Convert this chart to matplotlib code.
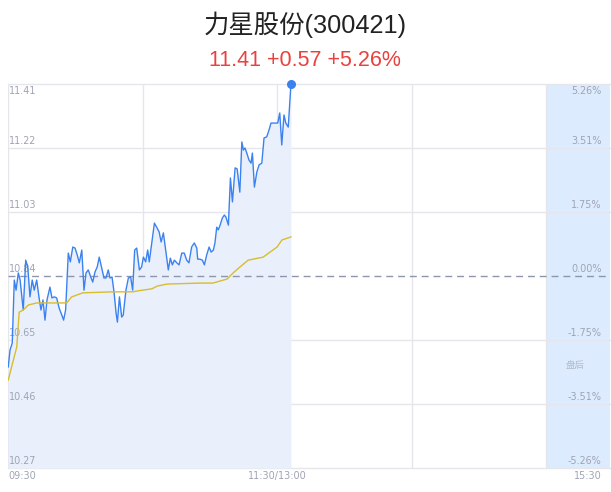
import matplotlib
matplotlib.use("Agg")
import matplotlib.pyplot as plt
import numpy as np

plt.rcParams['font.family'] = ['Noto Sans CJK SC', 'DejaVu Sans']

title = "力星股份(300421)"
subtitle = "11.41 +0.57 +5.26%"
prev_close = 10.84
y_ticks = [11.41, 11.22, 11.03, 10.84, 10.65, 10.46, 10.27]
x_tick_pos = [0, 120, 268.5]
x_tick_labels = ["09:30", "11:30/13:00", "15:30"]
post_label = "盘后"

# minutes since 09:30 (lunch break removed)
price_t = [0.1, 0.9, 1.9, 2.8, 3.6, 4.6, 5.4, 6.8, 7.9, 8.8, 9.8, 10.8, 11.7, 12.8, 13.8,
           14.7, 15.6, 16.5, 17.4, 18.7, 19.6, 20.7, 21.7, 22.8, 24.0, 24.8, 25.7, 26.9,
           27.8, 28.9, 29.9, 30.9, 31.8, 32.9, 33.9, 34.8, 35.8, 36.9, 37.8, 38.8, 39.8,
           40.7, 41.8, 42.8, 43.7, 44.7, 45.5, 46.4, 47.3, 48.2, 48.8, 49.7, 50.7, 51.4,
           52.6, 53.7, 54.7, 55.6, 56.5, 57.4, 58.6, 59.6, 60.4, 61.4, 62.3, 63.0, 64.1,
           65.3, 66.3, 67.4, 68.3, 69.3, 70.3, 71.5, 72.4, 73.3, 74.2, 75.3, 76.3, 77.5,
           78.6, 79.7, 80.7, 81.9, 83.1, 84.2, 84.6, 85.6, 86.7, 87.6, 88.6, 89.7, 90.6,
           91.6, 92.3, 93.1, 93.8, 94.6, 95.6, 96.5, 97.2, 98.3, 99.2, 100.1, 101.3, 102.2,
           103.4, 104.3, 105.0, 105.7, 106.5, 107.5, 108.4, 109.0, 109.9, 111.0, 112.0,
           113.2, 114.2, 115.4, 116.4, 117.3, 118.8, 120.3, 121.2, 122.1, 123.1, 123.9,
           125.0, 126.2]
price = [10.570, 10.620, 10.641, 10.828, 10.798, 10.849, 10.828, 10.739, 10.887, 10.867,
         10.778, 10.828, 10.798, 10.828, 10.778, 10.739, 10.769, 10.709, 10.769, 10.807,
         10.775, 10.778, 10.775, 10.745, 10.724, 10.709, 10.739, 10.908, 10.882, 10.926,
         10.923, 10.902, 10.879, 10.917, 10.798, 10.849, 10.858, 10.837, 10.822, 10.852,
         10.867, 10.896, 10.864, 10.834, 10.834, 10.858, 10.834, 10.837, 10.792, 10.730,
         10.703, 10.778, 10.718, 10.724, 10.798, 10.834, 10.837, 10.798, 10.917, 10.923,
         10.858, 10.867, 10.896, 10.882, 10.917, 10.882, 10.938, 10.997, 10.985, 10.971,
         10.941, 10.968, 10.917, 10.858, 10.893, 10.873, 10.887, 10.879, 10.873, 10.908,
         10.908, 10.887, 10.879, 10.926, 10.938, 10.923, 10.890, 10.890, 10.887, 10.873,
         10.902, 10.926, 10.911, 10.917, 10.938, 10.985, 10.977, 10.991, 11.012, 11.021,
         11.015, 10.991, 11.131, 11.060, 11.161, 11.158, 11.089, 11.238, 11.214, 11.220,
         11.205, 11.184, 11.175, 11.205, 11.104, 11.149, 11.170, 11.175, 11.250, 11.253,
         11.273, 11.294, 11.294, 11.294, 11.324, 11.229, 11.318, 11.294, 11.282, 11.410]

avg_t = [0.1, 1.6, 3.9, 5.0, 6.8, 9.1, 12.8, 26.2, 28.4, 33.4, 46.8, 55.7, 58.0, 64.2,
         66.5, 70.9, 85.6, 91.4, 97.7, 100.4, 103.5, 107.1, 113.8, 120.0, 122.2, 126.2]
avg = [10.531, 10.570, 10.629, 10.733, 10.739, 10.754, 10.760, 10.760, 10.778, 10.790,
       10.793, 10.793, 10.796, 10.802, 10.810, 10.816, 10.819, 10.819, 10.831, 10.849,
       10.867, 10.887, 10.896, 10.926, 10.947, 10.956]

W, H = 611, 492
fig = plt.figure(figsize=(W / 100, H / 100), dpi=100)
ax = fig.add_axes([8 / W, 1 - 468 / H, 602 / W, 384 / H])
ymin, ymax = min(y_ticks), max(y_ticks)
xmax = x_tick_pos[-1]
ax.set_xlim(0, xmax)
ax.set_ylim(ymin, ymax)
for s in ax.spines.values():
    s.set_visible(False)
ax.set_xticks([])
ax.set_yticks([])

grid_c = "#e4e6ec"
# post-market band
ax.axvspan(240, xmax, color="#dcebfd", zorder=0, lw=0)
for v in [0, 60, 120, 180, 240]:
    ax.axvline(v, color=grid_c, lw=1, zorder=1)
for yv in y_ticks:
    if abs(yv - prev_close) < 1e-9:
        continue
    ax.axhline(yv, color=grid_c, lw=1, zorder=1, clip_on=False)
ax.axhline(prev_close, color="#8d96ad", lw=1, ls=(0, (5, 3.5)), zorder=3)

ax.fill_between(price_t, price, ymin, color="#e9f0fc", lw=0, zorder=1.5)
ax.plot(price_t, price, color="#3b82f0", lw=1.0, zorder=4)
ax.plot(avg_t, avg, color="#d8bd2c", lw=1.0, zorder=4)
ax.plot([price_t[-1]], [price[-1]], 'o', color="#3b82f0", ms=5.5, zorder=5, clip_on=False)

lab_c = "#9ea4b4"
fs = 6.9
for i, yv in enumerate(y_ticks):
    va = 'top' if i == 0 else 'bottom'
    off = -1.5 if i == 0 else 1.5
    pct = (yv - prev_close) / prev_close * 100
    ax.annotate(f"{yv:.2f}", (0, yv), xytext=(0.5, off), textcoords='offset points',
                ha='left', va=va, fontsize=fs, color=lab_c, family='DejaVu Sans')
    ax.annotate(f"{pct:.2f}%", (xmax, yv), xytext=(-6, off), textcoords='offset points',
                ha='right', va=va, fontsize=fs, color=lab_c, family='DejaVu Sans')

ax.text(252.9, 10.573, post_label, fontsize=6.8, color="#b4bac8", ha='center', va='center')

ha_list = ['left', 'center', 'right']
offs = [0.5, 0, -6]
for p, l, h, o in zip(x_tick_pos, x_tick_labels, ha_list, offs):
    ax.annotate(l, (p, ymin), xytext=(o, -2), textcoords='offset points', ha=h, va='top',
                fontsize=fs, color=lab_c, family='DejaVu Sans', annotation_clip=False)

fig.text(305 / W, 1 - 25 / H, title, ha='center', va='center', fontsize=18.3, color="#222222",
         family=['Liberation Sans', 'Noto Sans CJK SC'], fontweight='medium')
fig.text(305 / W, 1 - 61 / H, subtitle, ha='center', va='center', fontsize=15.5, color="#e8413e",
         family=['Liberation Sans', 'Noto Sans CJK SC'])

fig.savefig("out.png", dpi=100)
